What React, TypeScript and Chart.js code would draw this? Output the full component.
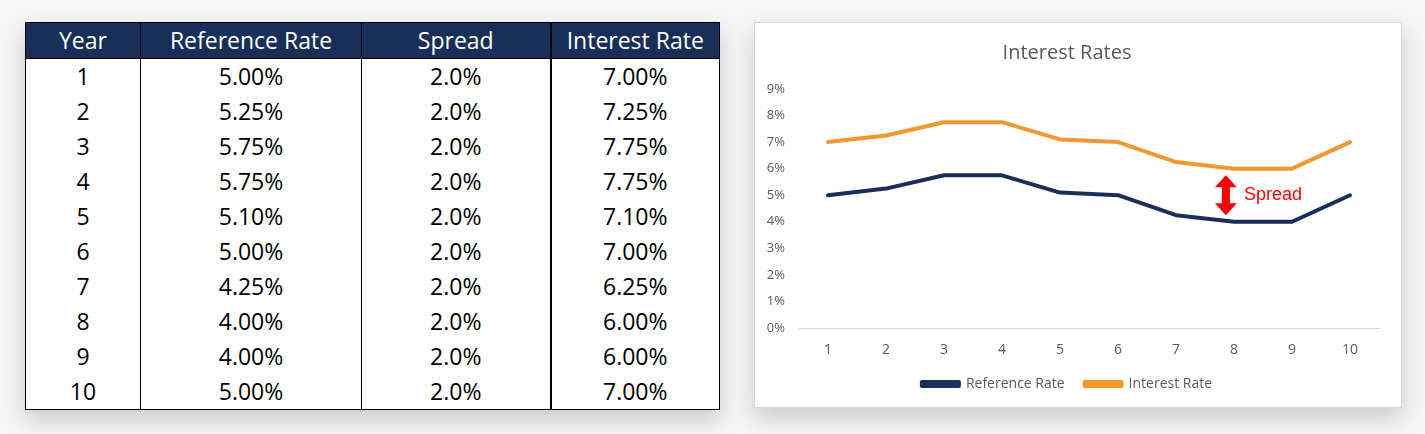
import React, { useEffect, useRef } from "react";
import { Chart, registerables } from "chart.js";

Chart.register(...registerables);

const years = ["1", "2", "3", "4", "5", "6", "7", "8", "9", "10"];
const referenceRate = [5.0, 5.25, 5.75, 5.75, 5.1, 5.0, 4.25, 4.0, 4.0, 5.0];
const spreadValues = [2.0, 2.0, 2.0, 2.0, 2.0, 2.0, 2.0, 2.0, 2.0, 2.0];
const interestRate = [7.0, 7.25, 7.75, 7.75, 7.1, 7.0, 6.25, 6.0, 6.0, 7.0];
const tableHeaders = ["Year", "Reference Rate", "Spread", "Interest Rate"];
const chartTitle = "Interest Rates";
const yMin = 0;
const yMax = 9;
const spreadLabel = "Spread";
const spreadArrowIndex = 6.86;
const spreadArrowTop = 5.75;
const spreadArrowBottom = 4.25;

const NAVY = "#172f59";
const ORANGE = "#f0992f";
const GRAY = "#595959";
const FONT = "'Open Sans', 'Noto Sans', sans-serif";

const spreadPlugin = {
  id: "spreadArrow",
  afterDatasetsDraw(chart: any) {
    const x = chart.scales.x.getPixelForValue(spreadArrowIndex);
    const yTop = chart.scales.y.getPixelForValue(spreadArrowTop);
    const yBot = chart.scales.y.getPixelForValue(spreadArrowBottom);
    const ctx = chart.ctx;
    const headH = 12;
    const headW = 11;
    const shaft = 4;
    ctx.save();
    ctx.fillStyle = "#ff0000";
    ctx.beginPath();
    ctx.moveTo(x, yTop);
    ctx.lineTo(x + headW, yTop + headH);
    ctx.lineTo(x + shaft, yTop + headH);
    ctx.lineTo(x + shaft, yBot - headH);
    ctx.lineTo(x + headW, yBot - headH);
    ctx.lineTo(x, yBot);
    ctx.lineTo(x - headW, yBot - headH);
    ctx.lineTo(x - shaft, yBot - headH);
    ctx.lineTo(x - shaft, yTop + headH);
    ctx.lineTo(x - headW, yTop + headH);
    ctx.closePath();
    ctx.fill();
    ctx.font = "18px 'Liberation Sans', Arial, sans-serif";
    ctx.textAlign = "left";
    ctx.textBaseline = "middle";
    ctx.fillText(spreadLabel, x + 18, (yTop + yBot) / 2);
    ctx.restore();
  },
};

function RateChart() {
  const ref = useRef<HTMLCanvasElement>(null);
  useEffect(() => {
    if (!ref.current) return;
    const chart = new Chart(ref.current, {
      type: "line",
      data: {
        labels: years,
        datasets: [
          {
            label: "Reference Rate",
            data: referenceRate,
            borderColor: NAVY,
            backgroundColor: NAVY,
            borderWidth: 4,
            pointRadius: 0,
            borderCapStyle: "round",
            borderJoinStyle: "round",
          },
          {
            label: "Interest Rate",
            data: interestRate,
            borderColor: ORANGE,
            backgroundColor: ORANGE,
            borderWidth: 4,
            pointRadius: 0,
            borderCapStyle: "round",
            borderJoinStyle: "round",
          },
        ],
      },
      options: {
        responsive: false,
        animation: false,
        layout: { padding: { left: 0, right: 22, top: 0, bottom: 6 } },
        plugins: {
          title: {
            display: true,
            text: chartTitle,
            color: GRAY,
            font: { family: FONT, size: 20, weight: "normal" },
            padding: { top: 18, bottom: 24 },
          },
          legend: {
            position: "bottom",
            labels: {
              boxWidth: 37,
              boxHeight: 4,
              color: GRAY,
              padding: 20,
              font: { family: FONT, size: 14 },
            },
          },
          tooltip: { enabled: false },
        },
        scales: {
          x: {
            offset: true,
            grid: { display: false, drawTicks: false },
            border: { display: true, color: "#d9d9d9", width: 1 },
            ticks: { color: GRAY, padding: 14, font: { family: FONT, size: 14 } },
            afterFit: (scale: any) => {
              scale.height = 29;
            },
          },
          y: {
            min: yMin,
            max: yMax,
            grid: { display: false, drawTicks: false },
            border: { display: false },
            ticks: {
              stepSize: 1,
              color: GRAY,
              padding: 14,
              font: { family: FONT, size: 13 },
              callback: (v: any) => `${v}%`,
            },
            afterFit: (scale: any) => {
              scale.width = 44;
            },
          },
        },
      },
      plugins: [spreadPlugin],
    });
    return () => chart.destroy();
  }, []);
  return <canvas ref={ref} width={646} height={384} style={{ display: "block" }} />;
}

export default function App() {
  const colW = [115, 221, 189, 169];
  const cell = (i: number, header: boolean): React.CSSProperties => ({
    height: 35,
    padding: 0,
    textAlign: "center",
    verticalAlign: "middle",
    borderLeft: i === 0 ? "none" : i === 3 ? "2px solid #000" : "1px solid #000",
    color: header ? "#fff" : "#000",
    background: header ? NAVY : "#fff",
    fontSize: 23,
    lineHeight: "35px",
  });
  return (
    <div
      style={{
        position: "absolute",
        left: 0,
        top: 0,
        width: 1425,
        height: 434,
        background: "#f6f6f6",
        fontFamily: FONT,
        overflow: "hidden",
      }}
    >
      <div
        style={{
          position: "absolute",
          left: 25,
          top: 22,
          width: 695,
          boxShadow: "0 10px 22px rgba(0,0,0,0.18)",
          background: "#fff",
        }}
      >
        <table
          style={{
            borderCollapse: "collapse",
            tableLayout: "fixed",
            width: 695,
            border: "1px solid #000",
          }}
        >
          <colgroup>
            {colW.map((w, i) => (
              <col key={i} style={{ width: w }} />
            ))}
          </colgroup>
          <thead>
            <tr>
              {tableHeaders.map((h, i) => (
                <th key={h} style={{ ...cell(i, true), fontWeight: "normal", borderBottom: "1px solid #000" }}>
                  {h}
                </th>
              ))}
            </tr>
          </thead>
          <tbody>
            {years.map((y, r) => (
              <tr key={y}>
                <td style={cell(0, false)}>{y}</td>
                <td style={cell(1, false)}>{referenceRate[r].toFixed(2)}%</td>
                <td style={cell(2, false)}>{spreadValues[r].toFixed(1)}%</td>
                <td style={cell(3, false)}>{interestRate[r].toFixed(2)}%</td>
              </tr>
            ))}
          </tbody>
        </table>
      </div>
      <div
        style={{
          position: "absolute",
          left: 754,
          top: 22,
          width: 646,
          height: 384,
          border: "1px solid #d9d9d9",
          background: "#fff",
          boxShadow: "0 10px 22px rgba(0,0,0,0.18)",
        }}
      >
        <RateChart />
      </div>
    </div>
  );
}
